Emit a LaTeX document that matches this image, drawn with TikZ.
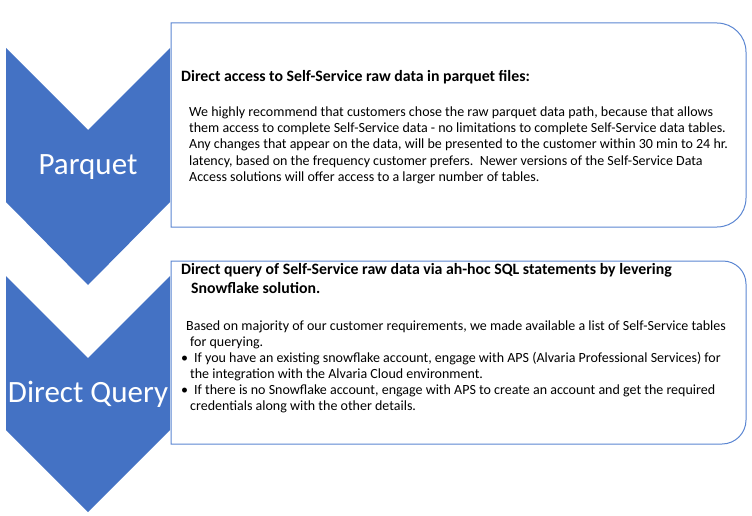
\documentclass[tikz,border=0pt]{standalone}
\usepackage{fontspec}
\setmainfont{Carlito}
\definecolor{chevblue}{HTML}{4472C4}
\definecolor{panelblue}{HTML}{5B86D2}
\tikzset{
  chevron/.style={fill=chevblue},
  panel/.style={draw=panelblue,line width=1pt,fill=white},
  tag/.style={text=white,anchor=base,inner sep=0pt,font=\fontsize{31}{35}\selectfont},
  head/.style={anchor=base west,inner sep=0pt,font=\bfseries\fontsize{15.8}{18}\selectfont},
  body/.style={anchor=base west,inner sep=0pt,font=\fontsize{14}{16}\selectfont}
}

\begin{document}
\begin{tikzpicture}[x=1pt,y=-1pt]
    \useasboundingbox (0,0) rectangle (752,516);
    % chevrons
    \fill[chevron] (6,48) -- (88,130) -- (170,48) -- (170,202) -- (88,285) -- (6,202) -- cycle;
    \fill[chevron] (6,276) -- (88,358) -- (170,276) -- (170,430) -- (88,512) -- (6,430) -- cycle;
    \node[tag] (parq) at (88,174) {Parquet};
    \node[tag] (dq) at (88,402) {Direct Query};

    % panels
    \draw[panel] (171,23) -- (717,23) arc[start angle=-90,end angle=0,radius=29]
      -- (746,198) arc[start angle=0,end angle=90,radius=29] -- (171,227) -- cycle;
    \draw[panel] (171,261) -- (723,261) arc[start angle=-90,end angle=0,radius=23]
      -- (746,420) arc[start angle=0,end angle=90,radius=24] -- (171,444) -- cycle;

    % parquet text
    \node[head] (h1) at (181,82) {Direct access to Self-Service raw data in parquet files:};
    \foreach \y/\t in {117/{We highly recommend that customers chose the raw parquet data path, because that allows},
                       133/{them access to complete Self-Service data - no limitations to complete Self-Service data tables.},
                       149/{Any changes that appear on the data, will be presented to the customer within 30 min to 24 hr.},
                       165/{latency, based on the frequency customer prefers.\ \ Newer versions of the Self-Service Data},
                       181/{Access solutions will offer access to a larger number of tables.}}
      \node[body] at (189,\y) {\t};

    % direct query text
    \node[head] (h2) at (181,274) {Direct query of Self-Service raw data via ah-hoc SQL statements by levering};
    \node[head] (h2b) at (191,293) {Snowflake solution.};
    \node[body] (b0) at (186,330) {Based on majority of our customer requirements, we made available a list of Self-Service tables};
    \node[body] (b1) at (190,346) {for querying.};
    \foreach \y/\t/\k in {362/{If you have an existing snowflake account, engage with APS (Alvaria Professional Services) for}/1,
                          394/{If there is no Snowflake account, engage with APS to create an account and get the required}/2} {
      \node[body] (dot\k) at (181,\y) {•};
      \node[body] (bl\k) at (194,\y) {\t};
    }
    \node[body] (c1) at (190,378) {the integration with the Alvaria Cloud environment.};
    \node[body] (c2) at (190,410) {credentials along with the other details.};
\end{tikzpicture}
\end{document}
